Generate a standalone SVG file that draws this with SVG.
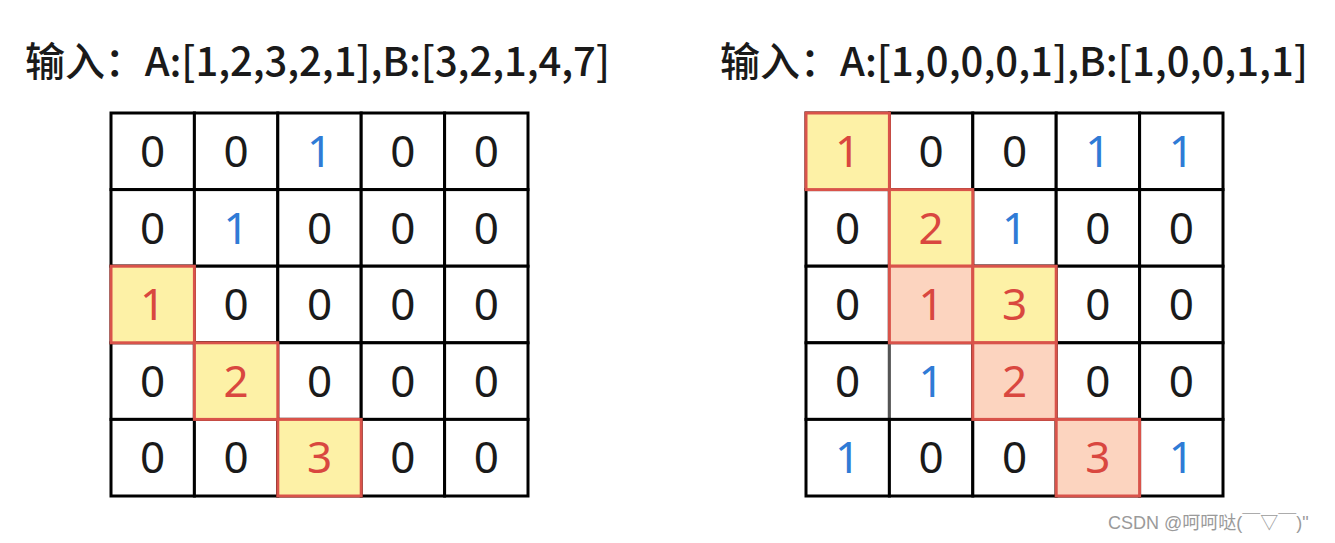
<svg xmlns="http://www.w3.org/2000/svg" width="1335" height="543" viewBox="0 0 1335 543">
<style>
.t{font-family:"Noto Sans CJK SC","Noto Sans",sans-serif;font-size:40px;font-weight:500;fill:#1a1a1a}
.c{fill:#fff;stroke:#000;stroke-width:3}
.y{fill:#fdf1a6;stroke:#d9534a;stroke-width:3}
.p{fill:#fcd4bf;stroke:#d9534a;stroke-width:3}
.n{font-family:"Noto Sans","Noto Sans CJK SC",sans-serif;font-size:44px;text-anchor:middle;fill:#1a1a1a}
.b{fill:#2f7bd6}
.r{fill:#d9473f}
.w{font-family:"Liberation Sans","Noto Sans CJK SC",sans-serif;font-size:18px;fill:#9a9a9a}
</style>
<rect width="1335" height="543" fill="#fff"/>
<text class="t" x="25" y="76" textLength="585" lengthAdjust="spacing">输入：A:[1,2,3,2,1],B:[3,2,1,4,7]</text>
<text class="t" x="720" y="76" textLength="588" lengthAdjust="spacing">输入：A:[1,0,0,0,1],B:[1,0,0,1,1]</text>
<g id="left">
<g class="c">
<rect x="111" y="113" width="83.4" height="76.6"/><rect x="194.4" y="113" width="83.4" height="76.6"/><rect x="277.8" y="113" width="83.4" height="76.6"/><rect x="361.2" y="113" width="83.4" height="76.6"/><rect x="444.6" y="113" width="83.4" height="76.6"/>
<rect x="111" y="189.6" width="83.4" height="76.6"/><rect x="194.4" y="189.6" width="83.4" height="76.6"/><rect x="277.8" y="189.6" width="83.4" height="76.6"/><rect x="361.2" y="189.6" width="83.4" height="76.6"/><rect x="444.6" y="189.6" width="83.4" height="76.6"/>
<rect x="111" y="266.2" width="83.4" height="76.6"/><rect x="194.4" y="266.2" width="83.4" height="76.6"/><rect x="277.8" y="266.2" width="83.4" height="76.6"/><rect x="361.2" y="266.2" width="83.4" height="76.6"/><rect x="444.6" y="266.2" width="83.4" height="76.6"/>
<rect x="111" y="342.8" width="83.4" height="76.6"/><rect x="194.4" y="342.8" width="83.4" height="76.6"/><rect x="277.8" y="342.8" width="83.4" height="76.6"/><rect x="361.2" y="342.8" width="83.4" height="76.6"/><rect x="444.6" y="342.8" width="83.4" height="76.6"/>
<rect x="111" y="419.4" width="83.4" height="76.6"/><rect x="194.4" y="419.4" width="83.4" height="76.6"/><rect x="277.8" y="419.4" width="83.4" height="76.6"/><rect x="361.2" y="419.4" width="83.4" height="76.6"/><rect x="444.6" y="419.4" width="83.4" height="76.6"/>
</g>
<rect class="y" x="111" y="266.2" width="83.4" height="76.6"/>
<rect class="y" x="194.4" y="342.8" width="83.4" height="76.6"/>
<rect class="y" x="277.8" y="419.4" width="83.4" height="76.6"/>
<g class="n">
<text x="152.7" y="167">0</text><text x="236.1" y="167">0</text><text class="b" x="319.5" y="167">1</text><text x="402.9" y="167">0</text><text x="486.3" y="167">0</text>
<text x="152.7" y="243.6">0</text><text class="b" x="236.1" y="243.6">1</text><text x="319.5" y="243.6">0</text><text x="402.9" y="243.6">0</text><text x="486.3" y="243.6">0</text>
<text class="r" x="152.7" y="320.2">1</text><text x="236.1" y="320.2">0</text><text x="319.5" y="320.2">0</text><text x="402.9" y="320.2">0</text><text x="486.3" y="320.2">0</text>
<text x="152.7" y="396.8">0</text><text class="r" x="236.1" y="396.8">2</text><text x="319.5" y="396.8">0</text><text x="402.9" y="396.8">0</text><text x="486.3" y="396.8">0</text>
<text x="152.7" y="473.4">0</text><text x="236.1" y="473.4">0</text><text class="r" x="319.5" y="473.4">3</text><text x="402.9" y="473.4">0</text><text x="486.3" y="473.4">0</text>
</g>
</g>
<g id="right">
<g class="c">
<rect x="806" y="113" width="83.4" height="76.6"/><rect x="889.4" y="113" width="83.4" height="76.6"/><rect x="972.8" y="113" width="83.4" height="76.6"/><rect x="1056.2" y="113" width="83.4" height="76.6"/><rect x="1139.6" y="113" width="83.4" height="76.6"/>
<rect x="806" y="189.6" width="83.4" height="76.6"/><rect x="889.4" y="189.6" width="83.4" height="76.6"/><rect x="972.8" y="189.6" width="83.4" height="76.6"/><rect x="1056.2" y="189.6" width="83.4" height="76.6"/><rect x="1139.6" y="189.6" width="83.4" height="76.6"/>
<rect x="806" y="266.2" width="83.4" height="76.6"/><rect x="889.4" y="266.2" width="83.4" height="76.6"/><rect x="972.8" y="266.2" width="83.4" height="76.6"/><rect x="1056.2" y="266.2" width="83.4" height="76.6"/><rect x="1139.6" y="266.2" width="83.4" height="76.6"/>
<rect x="806" y="342.8" width="83.4" height="76.6"/><rect x="889.4" y="342.8" width="83.4" height="76.6" stroke="#555"/><rect x="972.8" y="342.8" width="83.4" height="76.6"/><rect x="1056.2" y="342.8" width="83.4" height="76.6"/><rect x="1139.6" y="342.8" width="83.4" height="76.6"/>
<rect x="806" y="419.4" width="83.4" height="76.6"/><rect x="889.4" y="419.4" width="83.4" height="76.6"/><rect x="972.8" y="419.4" width="83.4" height="76.6"/><rect x="1056.2" y="419.4" width="83.4" height="76.6"/><rect x="1139.6" y="419.4" width="83.4" height="76.6"/>
</g>
<rect class="y" x="806" y="113" width="83.4" height="76.6"/>
<rect class="y" x="889.4" y="189.6" width="83.4" height="76.6"/>
<rect class="p" x="889.4" y="266.2" width="83.4" height="76.6"/>
<rect class="y" x="972.8" y="266.2" width="83.4" height="76.6"/>
<rect class="p" x="972.8" y="342.8" width="83.4" height="76.6"/>
<rect class="p" x="1056.2" y="419.4" width="83.4" height="76.6"/>
<g class="n">
<text class="r" x="847.7" y="167">1</text><text x="931.1" y="167">0</text><text x="1014.5" y="167">0</text><text class="b" x="1097.9" y="167">1</text><text class="b" x="1181.3" y="167">1</text>
<text x="847.7" y="243.6">0</text><text class="r" x="931.1" y="243.6">2</text><text class="b" x="1014.5" y="243.6">1</text><text x="1097.9" y="243.6">0</text><text x="1181.3" y="243.6">0</text>
<text x="847.7" y="320.2">0</text><text class="r" x="931.1" y="320.2">1</text><text class="r" x="1014.5" y="320.2">3</text><text x="1097.9" y="320.2">0</text><text x="1181.3" y="320.2">0</text>
<text x="847.7" y="396.8">0</text><text class="b" x="931.1" y="396.8">1</text><text class="r" x="1014.5" y="396.8">2</text><text x="1097.9" y="396.8">0</text><text x="1181.3" y="396.8">0</text>
<text class="b" x="847.7" y="473.4">1</text><text x="931.1" y="473.4">0</text><text x="1014.5" y="473.4">0</text><text class="r" x="1097.9" y="473.4">3</text><text class="b" x="1181.3" y="473.4">1</text>
</g>
</g>
<text class="w" x="1108" y="529">CSDN @呵呵哒(￣▽￣)"</text>
</svg>
